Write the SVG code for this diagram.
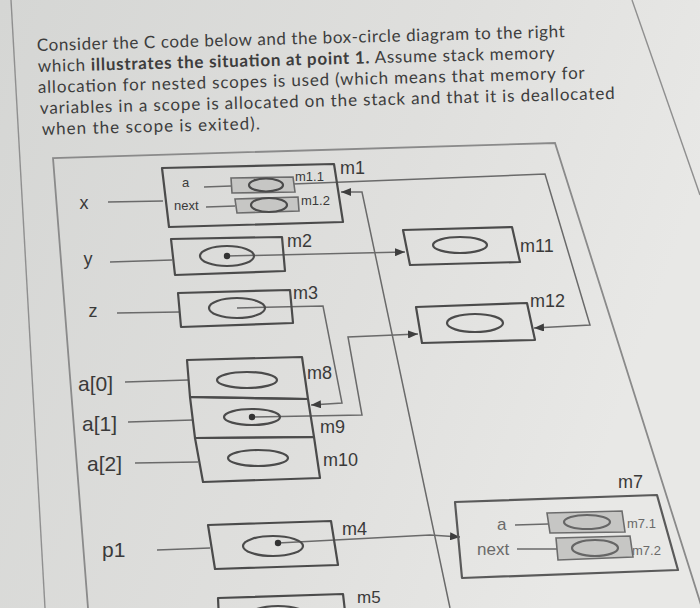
<svg xmlns="http://www.w3.org/2000/svg" width="700" height="608" viewBox="0 0 700 608">
  <defs>
    <linearGradient id="bg" x1="0" y1="0" x2="1" y2="0.3">
      <stop offset="0" stop-color="#d5d6d4"/>
      <stop offset="0.6" stop-color="#dfdfdd"/>
      <stop offset="1" stop-color="#e8e8e6"/>
    </linearGradient>
    <marker id="arr" viewBox="0 0 10 8" refX="10" refY="4" markerWidth="10" markerHeight="8" markerUnits="userSpaceOnUse" orient="auto">
      <path d="M0,0 L10,4 L0,8 z" fill="#3e3e3e"/>
    </marker>
    <style>
      .q { font-family: "Lato", "Liberation Sans", sans-serif; font-size: 17px; fill: #3d3d3d; }
      .lbl { font-family: "Liberation Sans", Arial, sans-serif; fill: #3a3a3a; }
      .big { font-size: 21px; }
      .mid { font-size: 18px; }
      .sm { font-size: 13px; }
      .box { fill: none; stroke: #4b4b4b; stroke-width: 2.2; stroke-linejoin: round; }
      .inner { fill: #c6c6c4; stroke: #6c6c6c; stroke-width: 1.6; }
      .ell { fill: none; stroke: #4b4b4b; stroke-width: 2.2; }
      .dot { fill: #333; }
      .con { fill: none; stroke: #6a6a6a; stroke-width: 1.5; }
      .edge { fill: none; stroke: #8f8f8f; stroke-width: 1.4; }
      .frame { fill: none; stroke: #8a8a8a; stroke-width: 1.8; }
      .faint { fill: #6a6a6a; }
    </style>
  </defs>

  <rect x="0" y="0" width="700" height="608" fill="url(#bg)"/>

  <!-- page edges -->
  <line class="edge" x1="11" y1="0" x2="45" y2="608"/>
  <line class="edge" x1="632" y1="0" x2="700" y2="195"/>

  <!-- question text -->
  <g id="question">
    <text class="q" x="37" y="51" textLength="528" lengthAdjust="spacing" transform="rotate(-1.5 37 51)">Consider the C code below and the box-circle diagram to the right</text>
    <text class="q" x="38" y="72" textLength="517" lengthAdjust="spacing" transform="rotate(-1.5 38 72)">which <tspan font-weight="bold">illustrates the situation at point 1.</tspan> Assume stack memory</text>
    <text class="q" x="38" y="93" textLength="547" lengthAdjust="spacing" transform="rotate(-1.5 38 93)">allocation for nested scopes is used (which means that memory for</text>
    <text class="q" x="40" y="114" textLength="575" lengthAdjust="spacing" transform="rotate(-1.5 40 114)">variables in a scope is allocated on the stack and that it is deallocated</text>
    <text class="q" x="42" y="135" textLength="218" lengthAdjust="spacing" transform="rotate(-1.5 42 135)">when the scope is exited).</text>
  </g>

  <!-- diagram frame -->
  <polyline class="frame" points="88,608 53,158 555,143 702,608"/>

  <!-- variable labels -->
  <g id="labels">
    <text class="lbl mid" x="84" y="209" text-anchor="middle">x</text>
    <text class="lbl mid" x="88" y="265" text-anchor="middle">y</text>
    <text class="lbl mid" x="93" y="317" text-anchor="middle">z</text>
    <text class="lbl big" x="78" y="391">a[0]</text>
    <text class="lbl big" x="82" y="431">a[1]</text>
    <text class="lbl big" x="87" y="471">a[2]</text>
    <text class="lbl big" x="102" y="557">p1</text>
  </g>

  <!-- connectors -->
  <g id="connectors">
    <line class="con" x1="108" y1="202" x2="163" y2="201"/>
    <line class="con" x1="110" y1="262" x2="172" y2="260"/>
    <line class="con" x1="117" y1="313" x2="179" y2="312"/>
    <line class="con" x1="125" y1="382" x2="188" y2="380"/>
    <line class="con" x1="128" y1="422" x2="193" y2="420"/>
    <line class="con" x1="135" y1="463" x2="198" y2="462"/>
    <line class="con" x1="157" y1="550" x2="210" y2="548"/>
    <line class="con" x1="204" y1="187" x2="231" y2="186"/>
    <line class="con" x1="206" y1="207" x2="235" y2="206"/>
    <!-- m1.1 -> m12 -->
    <polyline class="con" points="267,185 545,174 590,325 534,328" marker-end="url(#arr)"/>
    <!-- m2 -> m11 -->
    <polyline class="con" points="227,256 405,252" marker-end="url(#arr)"/>
    <!-- m3 -> m9 -->
    <polyline class="con" points="237,308 323,306 342,403 311,405" marker-end="url(#arr)"/>
    <!-- m9 -> m12 -->
    <polyline class="con" points="252,417 362,415 348,337 418,334" marker-end="url(#arr)"/>
    <!-- (below) -> m1 -->
    <polyline class="con" points="450,608 362,192 341,192" marker-end="url(#arr)"/>
    <!-- m4 -> m7 -->
    <polyline class="con" points="278,543 430,535 460,537" marker-end="url(#arr)"/>
  </g>

  <!-- nodes -->
  <g id="m1">
    <polygon class="box" points="162,168 334,164 343,222 169,227"/>
    <text class="lbl mid" x="340" y="174">m1</text>
    <text class="lbl sm" x="182" y="187">a</text>
    <text class="lbl sm" x="174" y="210">next</text>
  </g>
  <g id="m1.1">
    <polygon class="inner" points="231,178 293,177 295,192 232,193"/>
    <ellipse class="ell" cx="266" cy="185" rx="17" ry="6.5"/>
    <text class="lbl sm" x="295" y="181">m1.1</text>
  </g>
  <g id="m1.2">
    <polygon class="inner" points="235,199 298,197 299,211 237,213"/>
    <ellipse class="ell" cx="269" cy="205" rx="18" ry="7"/>
    <text class="lbl sm" x="301" y="205">m1.2</text>
  </g>
  <g id="m2">
    <polygon class="box" points="171,239 282,237 285,271 175,275"/>
    <ellipse class="ell" cx="227" cy="256" rx="27" ry="10"/>
    <circle class="dot" cx="227" cy="256" r="3.2"/>
    <text class="lbl mid" x="287" y="247">m2</text>
  </g>
  <g id="m3">
    <polygon class="box" points="178,293 290,290 293,323 181,327"/>
    <ellipse class="ell" cx="237" cy="308" rx="28" ry="10"/>
    <text class="lbl mid" x="293" y="299">m3</text>
  </g>
  <g id="m8">
    <polygon class="box" points="187,360 302,357 308,399 190,397"/>
    <ellipse class="ell" cx="247" cy="380" rx="30" ry="8"/>
    <text class="lbl mid" x="307" y="379">m8</text>
  </g>
  <g id="m9">
    <polygon class="box" points="190,397 308,399 314,437 195,438"/>
    <ellipse class="ell" cx="252" cy="417" rx="28" ry="8"/>
    <circle class="dot" cx="252" cy="417" r="3.2"/>
    <text class="lbl mid" x="320" y="433">m9</text>
  </g>
  <g id="m10">
    <polygon class="box" points="195,438 314,437 320,478 203,482"/>
    <ellipse class="ell" cx="258" cy="458" rx="30" ry="8"/>
    <text class="lbl mid" x="323" y="466">m10</text>
  </g>
  <g id="m4">
    <polygon class="box" points="208,525 331,521 338,565 215,569"/>
    <ellipse class="ell" cx="273" cy="546" rx="30" ry="10"/>
    <circle class="dot" cx="278" cy="543" r="3.2"/>
    <text class="lbl mid" x="342" y="535">m4</text>
  </g>
  <g id="m5">
    <polygon class="box" points="218,598 343,594 346,620 219,620"/>
    <ellipse class="ell" cx="278" cy="616" rx="30" ry="10"/>
    <text class="lbl" x="357" y="603" font-size="17">m5</text>
  </g>
  <g id="m11">
    <polygon class="box" points="403,230 512,227 520,262 410,265"/>
    <ellipse class="ell" cx="460" cy="245" rx="27" ry="8"/>
    <text class="lbl mid" x="520" y="252">m11</text>
  </g>
  <g id="m12">
    <polygon class="box" points="416,307 527,303 535,340 422,343"/>
    <ellipse class="ell" cx="475" cy="323" rx="28" ry="9"/>
    <text class="lbl mid" x="530" y="307">m12</text>
  </g>
  <g id="m7">
    <polygon class="box" points="455,502 657,495 678,570 462,578" style="stroke:#5a5a5a"/>
    <text class="lbl mid" x="618" y="488">m7</text>
    <text class="lbl faint" x="497" y="530" font-size="17">a</text>
    <text class="lbl faint" x="477" y="555" font-size="17">next</text>
    <line class="con" x1="515" y1="525" x2="548" y2="524"/>
    <line class="con" x1="517" y1="549" x2="557" y2="549"/>
  </g>
  <g id="m7.1">
    <polygon class="inner" points="547,513 622,511 625,532 550,533"/>
    <ellipse class="ell" cx="587" cy="522" rx="23" ry="7" style="stroke:#666"/>
    <text class="lbl sm faint" x="627" y="528">m7.1</text>
  </g>
  <g id="m7.2">
    <polygon class="inner" points="556,538 630,536 633,557 558,560"/>
    <ellipse class="ell" cx="595" cy="548" rx="23" ry="8" style="stroke:#666"/>
    <text class="lbl sm faint" x="632" y="555">m7.2</text>
  </g>
</svg>
